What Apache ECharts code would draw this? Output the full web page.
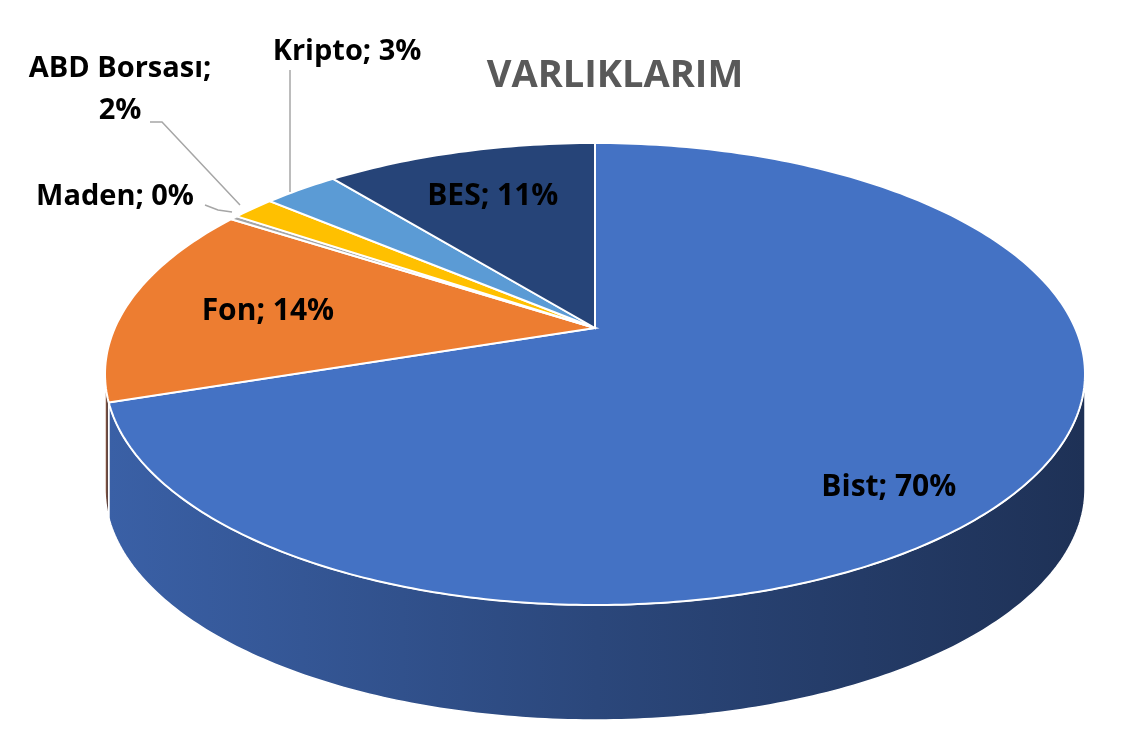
<!DOCTYPE html>
<html>
<head>
<meta charset="utf-8">
<script src="https://cdn.jsdelivr.net/npm/echarts@6/dist/echarts.min.js"></script>
<style>html,body{margin:0;padding:0;background:#fff}#main{width:1130px;height:747px}</style>
</head>
<body>
<div id="main"></div>
<script>
// dilimler saat yönünde, tepeden başlıyor
const names = ['Bist', 'Fon', 'Maden', 'ABD Borsası', 'Kripto', 'BES'];
const values = [70, 14, 0.3, 1.7, 3, 11];
const labels = ['Bist; 70%', 'Fon; 14%', 'Maden; 0%', 'ABD Borsası;\n2%', 'Kripto; 3%', 'BES; 11%'];
const colors = ['#4472C4', '#ED7D31', '#A5A5A5', '#FFC000', '#5B9BD5', '#264478'];

const total = values.reduce((a, b) => a + b, 0);
const starts = [];
let acc = 0;
values.forEach(v => { starts.push(acc / total); acc += v; });

// elips geometrisi
const cx = 595, cy = 374, rx = 490, ry = 231, depth = 115;
const apex = [595, 328];
const font = '"Open Sans", "DejaVu Sans", sans-serif';

// oranı, tepe noktasından çıkan ışının elipsi kestiği parametreye çevir
function toParam(f) {
  if (f <= 0) return 0;
  if (f >= 1) return 1;
  const th = f * Math.PI * 2;
  const dx = Math.sin(th) * rx, dy = -Math.cos(th) * ry;
  const ax = (apex[0] - cx) / rx, ay = (apex[1] - cy) / ry;
  const bx = dx / rx, by = dy / ry;
  const A = bx * bx + by * by, B = 2 * (ax * bx + ay * by), C = ax * ax + ay * ay - 1;
  const s = (-B + Math.sqrt(B * B - 4 * A * C)) / (2 * A);
  const u = ax + s * bx, v = ay + s * by;
  let t = Math.atan2(u, -v);
  if (t < 0) t += Math.PI * 2;
  return t / (Math.PI * 2);
}
function pt(g, dy) {
  const t = g * Math.PI * 2;
  return [cx + rx * Math.sin(t), cy - ry * Math.cos(t) + (dy || 0)];
}
function arc(g0, g1, dy) {
  const pts = [];
  const n = Math.max(2, Math.ceil((g1 - g0) * 400));
  for (let i = 0; i <= n; i++) pts.push(pt(g0 + (g1 - g0) * i / n, dy));
  return pts;
}

// dış etiketler için kılavuz çizgileri
const outside = {
  2: { pos: [115, 197], line: [[205, 205], [218, 210], [232, 212]] },
  3: { pos: [120, 90], line: [[150, 122], [162, 122], [240, 205]] },
  4: { pos: [347, 52], line: [[290, 70], [290, 192]] }
};

function renderItem(params, api) {
  const i = params.dataIndex;
  const g0 = toParam(starts[i]), g1 = toParam(starts[i] + values[i] / total);
  const children = [];
  // yan yüz (sadece alt yarı görünür)
  const s0 = Math.max(g0, 0.25), s1 = Math.min(g1, 0.75);
  if (s1 > s0) {
    const top = arc(s0, s1, 0), bot = arc(s0, s1, depth).reverse();
    const base = colors[i];
    children.push({
      type: 'polygon', shape: { points: top.concat(bot) },
      style: {
        fill: {
          type: 'linear', x: 0, y: 0, x2: 1, y2: 0,
          colorStops: [
            { offset: 0, color: echarts.color.lerp(0.25, [base, '#1a2a4a']) },
            { offset: 0.5, color: echarts.color.lerp(0.6, [base, '#1a2a4a']) },
            { offset: 1, color: echarts.color.lerp(0.9, [base, '#1a2a4a']) }
          ]
        },
        stroke: '#fff', lineWidth: 1.5
      }
    });
  }
  // üst yüz
  children.push({
    type: 'polygon', shape: { points: [apex].concat(arc(g0, g1, 0)) },
    style: { fill: colors[i], stroke: '#fff', lineWidth: 2 }
  });
  // etiket
  const o = outside[i];
  if (o) {
    children.push({ type: 'polyline', shape: { points: o.line }, style: { stroke: '#A6A6A6', lineWidth: 1.5, fill: null } });
    children.push({
      type: 'text', x: o.pos[0], y: o.pos[1],
      style: { text: labels[i], font: 'bold 29px ' + font, fill: '#000', align: 'center', verticalAlign: 'middle', lineHeight: 42 }
    });
  } else {
    const p = pt((g0 + g1) / 2, 0);
    const k = i === 0 ? 0.8 : (i === 5 ? 0.75 : 0.7);
    children.push({
      type: 'text',
      x: apex[0] + (p[0] - apex[0]) * k, y: apex[1] + (p[1] - apex[1]) * k,
      style: { text: labels[i], font: 'bold 30px ' + font, fill: '#000', align: 'center', verticalAlign: 'middle' }
    });
  }
  return { type: 'group', children };
}

const chart = echarts.init(document.getElementById('main'));
chart.setOption({
  animation: false,
  title: {
    text: 'VARLIKLARIM', left: 610, top: 52, textAlign: 'center',
    textStyle: { fontFamily: font, fontWeight: 'bold', fontSize: 38, color: '#595959' }
  },
  series: [{
    type: 'custom', coordinateSystem: 'none',
    data: names.map((n, i) => ({ name: n, value: values[i] })),
    renderItem
  }]
});
</script>
</body>
</html>
